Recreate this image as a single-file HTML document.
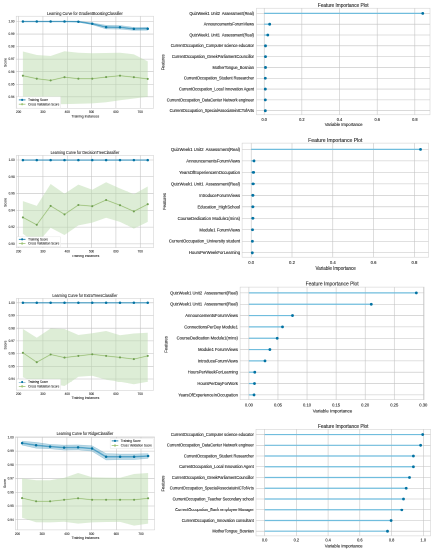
<!DOCTYPE html>
<html><head><meta charset="utf-8"><title>Model plots</title>
<style>html,body{margin:0;padding:0;background:#fff}</style>
</head><body>
<div style="position:relative;width:434px;height:550px;overflow:hidden"><div style="position:absolute;left:0;top:0;width:868px;height:1100px;transform-origin:0 0;transform:scale(0.5);will-change:transform"><svg width="868" height="1100" viewBox="0 0 434 550" font-family="'Liberation Sans', Arial, sans-serif" fill="#262626" style="display:block">
<style>text{white-space:pre}text.f{stroke:#262626;stroke-width:0.12px}text.l{stroke:#262626;stroke-width:0.08px}</style>
<rect x="0" y="0" width="434" height="550" fill="#ffffff"/>
<line x1="18.6" y1="16.2" x2="18.6" y2="108.3" stroke="#c2c2c2" stroke-width="0.55"/>
<line x1="42.93" y1="16.2" x2="42.93" y2="108.3" stroke="#c2c2c2" stroke-width="0.55"/>
<line x1="67.26" y1="16.2" x2="67.26" y2="108.3" stroke="#c2c2c2" stroke-width="0.55"/>
<line x1="91.59" y1="16.2" x2="91.59" y2="108.3" stroke="#c2c2c2" stroke-width="0.55"/>
<line x1="115.92" y1="16.2" x2="115.92" y2="108.3" stroke="#c2c2c2" stroke-width="0.55"/>
<line x1="140.25" y1="16.2" x2="140.25" y2="108.3" stroke="#c2c2c2" stroke-width="0.55"/>
<line x1="16.2" y1="21.5" x2="153.5" y2="21.5" stroke="#c2c2c2" stroke-width="0.55"/>
<line x1="16.2" y1="34.05" x2="153.5" y2="34.05" stroke="#c2c2c2" stroke-width="0.55"/>
<line x1="16.2" y1="46.6" x2="153.5" y2="46.6" stroke="#c2c2c2" stroke-width="0.55"/>
<line x1="16.2" y1="59.15" x2="153.5" y2="59.15" stroke="#c2c2c2" stroke-width="0.55"/>
<line x1="16.2" y1="71.7" x2="153.5" y2="71.7" stroke="#c2c2c2" stroke-width="0.55"/>
<line x1="16.2" y1="84.25" x2="153.5" y2="84.25" stroke="#c2c2c2" stroke-width="0.55"/>
<line x1="16.2" y1="96.8" x2="153.5" y2="96.8" stroke="#c2c2c2" stroke-width="0.55"/>
<polygon points="22.9,21.5 36.77,21.5 50.64,21.5 64.51,21.5 78.38,21.3 92.25,22.9 106.12,25.25 119.99,25.45 133.86,27.4 147.73,27.2 147.73,30.2 133.86,30.4 119.99,29.15 106.12,28.95 92.25,24.7 78.38,22.1 64.51,21.5 50.64,21.5 36.77,21.5 22.9,21.5" fill="#0272a2" fill-opacity="0.27" stroke="#0272a2" stroke-opacity="0.35" stroke-width="0.4" stroke-linejoin="round"/>
<polygon points="22.9,51.5 36.77,55 50.64,56 64.51,51.3 78.38,52.8 92.25,53.3 106.12,53 119.99,52.7 133.86,54.4 147.73,61.4 147.73,96.7 133.86,98.5 119.99,100.3 106.12,102.2 92.25,103.4 78.38,103.8 64.51,104.1 50.64,104.3 36.77,104.4 22.9,104.4" fill="#bbdbad" fill-opacity="0.5"/>
<polyline points="22.9,21.5 36.77,21.5 50.64,21.5 64.51,21.5 78.38,21.7 92.25,23.8 106.12,27.1 119.99,27.3 133.86,28.9 147.73,28.7" fill="none" stroke="#1e8fc4" stroke-width="1.6" stroke-opacity="0.45"/>
<polyline points="22.9,21.5 36.77,21.5 50.64,21.5 64.51,21.5 78.38,21.7 92.25,23.8 106.12,27.1 119.99,27.3 133.86,28.9 147.73,28.7" fill="none" stroke="#0272a2" stroke-width="0.4" stroke-opacity="0.7"/>
<circle cx="22.9" cy="21.5" r="1.25" fill="#0272a2"/>
<circle cx="36.77" cy="21.5" r="1.25" fill="#0272a2"/>
<circle cx="50.64" cy="21.5" r="1.25" fill="#0272a2"/>
<circle cx="64.51" cy="21.5" r="1.25" fill="#0272a2"/>
<circle cx="78.38" cy="21.7" r="1.25" fill="#0272a2"/>
<circle cx="92.25" cy="23.8" r="1.25" fill="#0272a2"/>
<circle cx="106.12" cy="27.1" r="1.25" fill="#0272a2"/>
<circle cx="119.99" cy="27.3" r="1.25" fill="#0272a2"/>
<circle cx="133.86" cy="28.9" r="1.25" fill="#0272a2"/>
<circle cx="147.73" cy="28.7" r="1.25" fill="#0272a2"/>
<polyline points="22.9,75.7 36.77,78.7 50.64,80.4 64.51,77.2 78.38,78.7 92.25,78.7 106.12,77.1 119.99,75.7 133.86,77.2 147.73,78.9" fill="none" stroke="#9fc377" stroke-width="1.1" stroke-opacity="0.45"/>
<polyline points="22.9,75.7 36.77,78.7 50.64,80.4 64.51,77.2 78.38,78.7 92.25,78.7 106.12,77.1 119.99,75.7 133.86,77.2 147.73,78.9" fill="none" stroke="#86b45f" stroke-width="0.4"/>
<circle cx="22.9" cy="75.7" r="1.05" fill="#6f9f50"/>
<circle cx="36.77" cy="78.7" r="1.05" fill="#6f9f50"/>
<circle cx="50.64" cy="80.4" r="1.05" fill="#6f9f50"/>
<circle cx="64.51" cy="77.2" r="1.05" fill="#6f9f50"/>
<circle cx="78.38" cy="78.7" r="1.05" fill="#6f9f50"/>
<circle cx="92.25" cy="78.7" r="1.05" fill="#6f9f50"/>
<circle cx="106.12" cy="77.1" r="1.05" fill="#6f9f50"/>
<circle cx="119.99" cy="75.7" r="1.05" fill="#6f9f50"/>
<circle cx="133.86" cy="77.2" r="1.05" fill="#6f9f50"/>
<circle cx="147.73" cy="78.9" r="1.05" fill="#6f9f50"/>
<rect x="16.2" y="16.2" width="137.3" height="92.1" fill="none" stroke="#cccccc" stroke-width="0.5" rx="0"/>
<text class="l" x="14.5" y="22.6" font-size="3.444" text-anchor="end" transform="matrix(0.9 0 0 1 1.45 0)">1.00</text>
<text class="l" x="14.5" y="35.15" font-size="3.444" text-anchor="end" transform="matrix(0.9 0 0 1 1.45 0)">0.99</text>
<text class="l" x="14.5" y="47.7" font-size="3.444" text-anchor="end" transform="matrix(0.9 0 0 1 1.45 0)">0.98</text>
<text class="l" x="14.5" y="60.25" font-size="3.444" text-anchor="end" transform="matrix(0.9 0 0 1 1.45 0)">0.97</text>
<text class="l" x="14.5" y="72.8" font-size="3.444" text-anchor="end" transform="matrix(0.9 0 0 1 1.45 0)">0.96</text>
<text class="l" x="14.5" y="85.35" font-size="3.444" text-anchor="end" transform="matrix(0.9 0 0 1 1.45 0)">0.95</text>
<text class="l" x="14.5" y="97.9" font-size="3.444" text-anchor="end" transform="matrix(0.9 0 0 1 1.45 0)">0.94</text>
<text class="l" x="18.6" y="112.8" font-size="3.444" text-anchor="middle" transform="matrix(0.9 0 0 1 1.86 0)">200</text>
<text class="l" x="42.93" y="112.8" font-size="3.444" text-anchor="middle" transform="matrix(0.9 0 0 1 4.29 0)">300</text>
<text class="l" x="67.26" y="112.8" font-size="3.444" text-anchor="middle" transform="matrix(0.9 0 0 1 6.73 0)">400</text>
<text class="l" x="91.59" y="112.8" font-size="3.444" text-anchor="middle" transform="matrix(0.9 0 0 1 9.16 0)">500</text>
<text class="l" x="115.92" y="112.8" font-size="3.444" text-anchor="middle" transform="matrix(0.9 0 0 1 11.59 0)">600</text>
<text class="l" x="140.25" y="112.8" font-size="3.444" text-anchor="middle" transform="matrix(0.9 0 0 1 14.02 0)">700</text>
<text class="l" x="84.85" y="14.92" font-size="4.133" text-anchor="middle" transform="matrix(0.9 0 0 1 8.48 0)">Learning Curve for GradientBoostingClassifier</text>
<text class="l" x="85.35" y="117.61" font-size="3.789" text-anchor="middle" transform="matrix(0.9 0 0 1 8.53 0)">Training Instances</text>
<text class="l" x="5.4" y="63.71" font-size="3.79" text-anchor="middle" transform="rotate(-90 5.4 62.5) matrix(0.9 0 0 1 0.54 0)">Score</text>
<rect x="16.8" y="96.8" width="43.9" height="11.4" fill="#ffffff" stroke="#dddddd" stroke-width="0.35" rx="0.6"/>
<line x1="18.8" y1="99.9" x2="25.5" y2="99.9" stroke="#0272a2" stroke-width="0.8"/>
<circle cx="22.15" cy="99.9" r="1.1" fill="#0272a2"/>
<text class="l" x="28.1" y="101" font-size="3.444" text-anchor="start" transform="matrix(0.9 0 0 1 2.81 0)">Training Score</text>
<line x1="18.8" y1="104.2" x2="25.5" y2="104.2" stroke="#9fc377" stroke-width="0.8"/>
<circle cx="22.15" cy="104.2" r="1.1" fill="#9fc377"/>
<text class="l" x="28.1" y="105.3" font-size="3.444" text-anchor="start" transform="matrix(0.9 0 0 1 2.81 0)">Cross Validation Score</text>
<line x1="18.6" y1="155.4" x2="18.6" y2="247.7" stroke="#c2c2c2" stroke-width="0.55"/>
<line x1="42.93" y1="155.4" x2="42.93" y2="247.7" stroke="#c2c2c2" stroke-width="0.55"/>
<line x1="67.26" y1="155.4" x2="67.26" y2="247.7" stroke="#c2c2c2" stroke-width="0.55"/>
<line x1="91.59" y1="155.4" x2="91.59" y2="247.7" stroke="#c2c2c2" stroke-width="0.55"/>
<line x1="115.92" y1="155.4" x2="115.92" y2="247.7" stroke="#c2c2c2" stroke-width="0.55"/>
<line x1="140.25" y1="155.4" x2="140.25" y2="247.7" stroke="#c2c2c2" stroke-width="0.55"/>
<line x1="16.4" y1="160" x2="153.5" y2="160" stroke="#c2c2c2" stroke-width="0.55"/>
<line x1="16.4" y1="176.78" x2="153.5" y2="176.78" stroke="#c2c2c2" stroke-width="0.55"/>
<line x1="16.4" y1="193.56" x2="153.5" y2="193.56" stroke="#c2c2c2" stroke-width="0.55"/>
<line x1="16.4" y1="210.34" x2="153.5" y2="210.34" stroke="#c2c2c2" stroke-width="0.55"/>
<line x1="16.4" y1="227.12" x2="153.5" y2="227.12" stroke="#c2c2c2" stroke-width="0.55"/>
<line x1="16.4" y1="243.9" x2="153.5" y2="243.9" stroke="#c2c2c2" stroke-width="0.55"/>
<polygon points="22.9,201.1 36.77,205.9 50.64,184 64.51,193.8 78.38,184.6 92.25,189.8 106.12,182.3 119.99,188.5 133.86,194.2 147.73,186.5 147.73,221.9 133.86,228.6 119.99,221.9 106.12,217.7 92.25,222.6 78.38,225.4 64.51,235 50.64,227.8 36.77,243.7 22.9,233.7" fill="#bbdbad" fill-opacity="0.5"/>
<polyline points="22.9,160.1 36.77,160.1 50.64,160.1 64.51,160.1 78.38,160.1 92.25,160.1 106.12,160.1 119.99,160.1 133.86,160.1 147.73,160.1" fill="none" stroke="#1e8fc4" stroke-width="1.6" stroke-opacity="0.45"/>
<polyline points="22.9,160.1 36.77,160.1 50.64,160.1 64.51,160.1 78.38,160.1 92.25,160.1 106.12,160.1 119.99,160.1 133.86,160.1 147.73,160.1" fill="none" stroke="#0272a2" stroke-width="0.4" stroke-opacity="0.7"/>
<circle cx="22.9" cy="160.1" r="1.25" fill="#0272a2"/>
<circle cx="36.77" cy="160.1" r="1.25" fill="#0272a2"/>
<circle cx="50.64" cy="160.1" r="1.25" fill="#0272a2"/>
<circle cx="64.51" cy="160.1" r="1.25" fill="#0272a2"/>
<circle cx="78.38" cy="160.1" r="1.25" fill="#0272a2"/>
<circle cx="92.25" cy="160.1" r="1.25" fill="#0272a2"/>
<circle cx="106.12" cy="160.1" r="1.25" fill="#0272a2"/>
<circle cx="119.99" cy="160.1" r="1.25" fill="#0272a2"/>
<circle cx="133.86" cy="160.1" r="1.25" fill="#0272a2"/>
<circle cx="147.73" cy="160.1" r="1.25" fill="#0272a2"/>
<polyline points="22.9,217.4 36.77,224.8 50.64,205.9 64.51,214.4 78.38,205 92.25,206.2 106.12,200 119.99,205.2 133.86,211.4 147.73,204.2" fill="none" stroke="#9fc377" stroke-width="1.1" stroke-opacity="0.45"/>
<polyline points="22.9,217.4 36.77,224.8 50.64,205.9 64.51,214.4 78.38,205 92.25,206.2 106.12,200 119.99,205.2 133.86,211.4 147.73,204.2" fill="none" stroke="#86b45f" stroke-width="0.4"/>
<circle cx="22.9" cy="217.4" r="1.05" fill="#6f9f50"/>
<circle cx="36.77" cy="224.8" r="1.05" fill="#6f9f50"/>
<circle cx="50.64" cy="205.9" r="1.05" fill="#6f9f50"/>
<circle cx="64.51" cy="214.4" r="1.05" fill="#6f9f50"/>
<circle cx="78.38" cy="205" r="1.05" fill="#6f9f50"/>
<circle cx="92.25" cy="206.2" r="1.05" fill="#6f9f50"/>
<circle cx="106.12" cy="200" r="1.05" fill="#6f9f50"/>
<circle cx="119.99" cy="205.2" r="1.05" fill="#6f9f50"/>
<circle cx="133.86" cy="211.4" r="1.05" fill="#6f9f50"/>
<circle cx="147.73" cy="204.2" r="1.05" fill="#6f9f50"/>
<rect x="16.4" y="155.4" width="137.1" height="92.3" fill="none" stroke="#cccccc" stroke-width="0.5" rx="0"/>
<text class="l" x="14.7" y="161.1" font-size="3.444" text-anchor="end" transform="matrix(0.9 0 0 1 1.47 0)">1.00</text>
<text class="l" x="14.7" y="177.88" font-size="3.444" text-anchor="end" transform="matrix(0.9 0 0 1 1.47 0)">0.98</text>
<text class="l" x="14.7" y="194.66" font-size="3.444" text-anchor="end" transform="matrix(0.9 0 0 1 1.47 0)">0.96</text>
<text class="l" x="14.7" y="211.44" font-size="3.444" text-anchor="end" transform="matrix(0.9 0 0 1 1.47 0)">0.94</text>
<text class="l" x="14.7" y="228.22" font-size="3.444" text-anchor="end" transform="matrix(0.9 0 0 1 1.47 0)">0.92</text>
<text class="l" x="14.7" y="245" font-size="3.444" text-anchor="end" transform="matrix(0.9 0 0 1 1.47 0)">0.90</text>
<text class="l" x="18.6" y="252.3" font-size="3.444" text-anchor="middle" transform="matrix(0.9 0 0 1 1.86 0)">200</text>
<text class="l" x="42.93" y="252.3" font-size="3.444" text-anchor="middle" transform="matrix(0.9 0 0 1 4.29 0)">300</text>
<text class="l" x="67.26" y="252.3" font-size="3.444" text-anchor="middle" transform="matrix(0.9 0 0 1 6.73 0)">400</text>
<text class="l" x="91.59" y="252.3" font-size="3.444" text-anchor="middle" transform="matrix(0.9 0 0 1 9.16 0)">500</text>
<text class="l" x="115.92" y="252.3" font-size="3.444" text-anchor="middle" transform="matrix(0.9 0 0 1 11.59 0)">600</text>
<text class="l" x="140.25" y="252.3" font-size="3.444" text-anchor="middle" transform="matrix(0.9 0 0 1 14.02 0)">700</text>
<text class="l" x="84.95" y="153.82" font-size="4.133" text-anchor="middle" transform="matrix(0.9 0 0 1 8.49 0)">Learning Curve for DecisionTreeClassifier</text>
<text class="l" x="85.45" y="256.91" font-size="3.789" text-anchor="middle" transform="matrix(0.9 0 0 1 8.54 0)">Training Instances</text>
<text class="l" x="5.5" y="203.61" font-size="3.79" text-anchor="middle" transform="rotate(-90 5.5 202.4) matrix(0.9 0 0 1 0.55 0)">Score</text>
<rect x="16.8" y="236.8" width="43.9" height="10" fill="#ffffff" stroke="#dddddd" stroke-width="0.35" rx="0.6"/>
<line x1="18.8" y1="239.3" x2="25.5" y2="239.3" stroke="#0272a2" stroke-width="0.8"/>
<circle cx="22.15" cy="239.3" r="1.1" fill="#0272a2"/>
<text class="l" x="28.1" y="240.4" font-size="3.444" text-anchor="start" transform="matrix(0.9 0 0 1 2.81 0)">Training Score</text>
<line x1="18.8" y1="243.5" x2="25.5" y2="243.5" stroke="#9fc377" stroke-width="0.8"/>
<circle cx="22.15" cy="243.5" r="1.1" fill="#9fc377"/>
<text class="l" x="28.1" y="244.6" font-size="3.444" text-anchor="start" transform="matrix(0.9 0 0 1 2.81 0)">Cross Validation Score</text>
<line x1="18.6" y1="298.4" x2="18.6" y2="390.3" stroke="#c2c2c2" stroke-width="0.55"/>
<line x1="42.93" y1="298.4" x2="42.93" y2="390.3" stroke="#c2c2c2" stroke-width="0.55"/>
<line x1="67.26" y1="298.4" x2="67.26" y2="390.3" stroke="#c2c2c2" stroke-width="0.55"/>
<line x1="91.59" y1="298.4" x2="91.59" y2="390.3" stroke="#c2c2c2" stroke-width="0.55"/>
<line x1="115.92" y1="298.4" x2="115.92" y2="390.3" stroke="#c2c2c2" stroke-width="0.55"/>
<line x1="140.25" y1="298.4" x2="140.25" y2="390.3" stroke="#c2c2c2" stroke-width="0.55"/>
<line x1="16.4" y1="302.8" x2="153.5" y2="302.8" stroke="#c2c2c2" stroke-width="0.55"/>
<line x1="16.4" y1="315.5" x2="153.5" y2="315.5" stroke="#c2c2c2" stroke-width="0.55"/>
<line x1="16.4" y1="328.2" x2="153.5" y2="328.2" stroke="#c2c2c2" stroke-width="0.55"/>
<line x1="16.4" y1="340.9" x2="153.5" y2="340.9" stroke="#c2c2c2" stroke-width="0.55"/>
<line x1="16.4" y1="353.6" x2="153.5" y2="353.6" stroke="#c2c2c2" stroke-width="0.55"/>
<line x1="16.4" y1="366.3" x2="153.5" y2="366.3" stroke="#c2c2c2" stroke-width="0.55"/>
<line x1="16.4" y1="379" x2="153.5" y2="379" stroke="#c2c2c2" stroke-width="0.55"/>
<polygon points="22.9,329 36.77,337.7 50.64,328.5 64.51,329 78.38,335 92.25,333.3 106.12,331 119.99,335.2 133.86,333.5 147.73,332.7 147.73,381.7 133.86,384.2 119.99,381.7 106.12,379.8 92.25,375.8 78.38,376.8 64.51,386 50.64,383.5 36.77,383 22.9,377.3" fill="#bbdbad" fill-opacity="0.5"/>
<polyline points="22.9,302.8 36.77,302.8 50.64,302.8 64.51,302.8 78.38,302.8 92.25,302.8 106.12,302.8 119.99,302.8 133.86,302.8 147.73,302.8" fill="none" stroke="#1e8fc4" stroke-width="1.6" stroke-opacity="0.45"/>
<polyline points="22.9,302.8 36.77,302.8 50.64,302.8 64.51,302.8 78.38,302.8 92.25,302.8 106.12,302.8 119.99,302.8 133.86,302.8 147.73,302.8" fill="none" stroke="#0272a2" stroke-width="0.4" stroke-opacity="0.7"/>
<circle cx="22.9" cy="302.8" r="1.25" fill="#0272a2"/>
<circle cx="36.77" cy="302.8" r="1.25" fill="#0272a2"/>
<circle cx="50.64" cy="302.8" r="1.25" fill="#0272a2"/>
<circle cx="64.51" cy="302.8" r="1.25" fill="#0272a2"/>
<circle cx="78.38" cy="302.8" r="1.25" fill="#0272a2"/>
<circle cx="92.25" cy="302.8" r="1.25" fill="#0272a2"/>
<circle cx="106.12" cy="302.8" r="1.25" fill="#0272a2"/>
<circle cx="119.99" cy="302.8" r="1.25" fill="#0272a2"/>
<circle cx="133.86" cy="302.8" r="1.25" fill="#0272a2"/>
<circle cx="147.73" cy="302.8" r="1.25" fill="#0272a2"/>
<polyline points="22.9,352.8 36.77,362.2 50.64,354.5 64.51,357.6 78.38,355.9 92.25,354.3 106.12,355.9 119.99,357.4 133.86,359.1 147.73,355.9" fill="none" stroke="#9fc377" stroke-width="1.1" stroke-opacity="0.45"/>
<polyline points="22.9,352.8 36.77,362.2 50.64,354.5 64.51,357.6 78.38,355.9 92.25,354.3 106.12,355.9 119.99,357.4 133.86,359.1 147.73,355.9" fill="none" stroke="#86b45f" stroke-width="0.4"/>
<circle cx="22.9" cy="352.8" r="1.05" fill="#6f9f50"/>
<circle cx="36.77" cy="362.2" r="1.05" fill="#6f9f50"/>
<circle cx="50.64" cy="354.5" r="1.05" fill="#6f9f50"/>
<circle cx="64.51" cy="357.6" r="1.05" fill="#6f9f50"/>
<circle cx="78.38" cy="355.9" r="1.05" fill="#6f9f50"/>
<circle cx="92.25" cy="354.3" r="1.05" fill="#6f9f50"/>
<circle cx="106.12" cy="355.9" r="1.05" fill="#6f9f50"/>
<circle cx="119.99" cy="357.4" r="1.05" fill="#6f9f50"/>
<circle cx="133.86" cy="359.1" r="1.05" fill="#6f9f50"/>
<circle cx="147.73" cy="355.9" r="1.05" fill="#6f9f50"/>
<rect x="16.4" y="298.4" width="137.1" height="91.9" fill="none" stroke="#cccccc" stroke-width="0.5" rx="0"/>
<text class="l" x="14.7" y="303.9" font-size="3.444" text-anchor="end" transform="matrix(0.9 0 0 1 1.47 0)">1.00</text>
<text class="l" x="14.7" y="316.6" font-size="3.444" text-anchor="end" transform="matrix(0.9 0 0 1 1.47 0)">0.99</text>
<text class="l" x="14.7" y="329.3" font-size="3.444" text-anchor="end" transform="matrix(0.9 0 0 1 1.47 0)">0.98</text>
<text class="l" x="14.7" y="342" font-size="3.444" text-anchor="end" transform="matrix(0.9 0 0 1 1.47 0)">0.97</text>
<text class="l" x="14.7" y="354.7" font-size="3.444" text-anchor="end" transform="matrix(0.9 0 0 1 1.47 0)">0.96</text>
<text class="l" x="14.7" y="367.4" font-size="3.444" text-anchor="end" transform="matrix(0.9 0 0 1 1.47 0)">0.95</text>
<text class="l" x="14.7" y="380.1" font-size="3.444" text-anchor="end" transform="matrix(0.9 0 0 1 1.47 0)">0.94</text>
<text class="l" x="18.6" y="394.8" font-size="3.444" text-anchor="middle" transform="matrix(0.9 0 0 1 1.86 0)">200</text>
<text class="l" x="42.93" y="394.8" font-size="3.444" text-anchor="middle" transform="matrix(0.9 0 0 1 4.29 0)">300</text>
<text class="l" x="67.26" y="394.8" font-size="3.444" text-anchor="middle" transform="matrix(0.9 0 0 1 6.73 0)">400</text>
<text class="l" x="91.59" y="394.8" font-size="3.444" text-anchor="middle" transform="matrix(0.9 0 0 1 9.16 0)">500</text>
<text class="l" x="115.92" y="394.8" font-size="3.444" text-anchor="middle" transform="matrix(0.9 0 0 1 11.59 0)">600</text>
<text class="l" x="140.25" y="394.8" font-size="3.444" text-anchor="middle" transform="matrix(0.9 0 0 1 14.02 0)">700</text>
<text class="l" x="84.95" y="297.12" font-size="4.133" text-anchor="middle" transform="matrix(0.9 0 0 1 8.49 0)">Learning Curve for ExtraTreesClassifier</text>
<text class="l" x="85.45" y="399.21" font-size="3.789" text-anchor="middle" transform="matrix(0.9 0 0 1 8.54 0)">Training Instances</text>
<text class="l" x="5.5" y="346.21" font-size="3.79" text-anchor="middle" transform="rotate(-90 5.5 345) matrix(0.9 0 0 1 0.55 0)">Score</text>
<rect x="16.8" y="379.2" width="43.9" height="10.7" fill="#ffffff" stroke="#dddddd" stroke-width="0.35" rx="0.6"/>
<line x1="18.8" y1="382" x2="25.5" y2="382" stroke="#0272a2" stroke-width="0.8"/>
<circle cx="22.15" cy="382" r="1.1" fill="#0272a2"/>
<text class="l" x="28.1" y="383.1" font-size="3.444" text-anchor="start" transform="matrix(0.9 0 0 1 2.81 0)">Training Score</text>
<line x1="18.8" y1="386.4" x2="25.5" y2="386.4" stroke="#9fc377" stroke-width="0.8"/>
<circle cx="22.15" cy="386.4" r="1.1" fill="#9fc377"/>
<text class="l" x="28.1" y="387.5" font-size="3.444" text-anchor="start" transform="matrix(0.9 0 0 1 2.81 0)">Cross Validation Score</text>
<line x1="17.5" y1="436.9" x2="17.5" y2="529.9" stroke="#c2c2c2" stroke-width="0.55"/>
<line x1="42.2" y1="436.9" x2="42.2" y2="529.9" stroke="#c2c2c2" stroke-width="0.55"/>
<line x1="66.9" y1="436.9" x2="66.9" y2="529.9" stroke="#c2c2c2" stroke-width="0.55"/>
<line x1="91.6" y1="436.9" x2="91.6" y2="529.9" stroke="#c2c2c2" stroke-width="0.55"/>
<line x1="116.3" y1="436.9" x2="116.3" y2="529.9" stroke="#c2c2c2" stroke-width="0.55"/>
<line x1="141" y1="436.9" x2="141" y2="529.9" stroke="#c2c2c2" stroke-width="0.55"/>
<line x1="15.4" y1="437.4" x2="154.5" y2="437.4" stroke="#c2c2c2" stroke-width="0.55"/>
<line x1="15.4" y1="451.12" x2="154.5" y2="451.12" stroke="#c2c2c2" stroke-width="0.55"/>
<line x1="15.4" y1="464.84" x2="154.5" y2="464.84" stroke="#c2c2c2" stroke-width="0.55"/>
<line x1="15.4" y1="478.56" x2="154.5" y2="478.56" stroke="#c2c2c2" stroke-width="0.55"/>
<line x1="15.4" y1="492.28" x2="154.5" y2="492.28" stroke="#c2c2c2" stroke-width="0.55"/>
<line x1="15.4" y1="506" x2="154.5" y2="506" stroke="#c2c2c2" stroke-width="0.55"/>
<line x1="15.4" y1="519.72" x2="154.5" y2="519.72" stroke="#c2c2c2" stroke-width="0.55"/>
<polygon points="22.1,441.1 36.1,442.4 50.1,444.4 64.1,445.1 78.1,444.9 92.1,445.8 106.1,453.6 120.1,454 134.1,454 148.1,453.6 148.1,458.4 134.1,459.6 120.1,459.6 106.1,460 92.1,451.2 78.1,449.9 64.1,450.1 50.1,448.8 36.1,448.2 22.1,445.1" fill="#0272a2" fill-opacity="0.27" stroke="#0272a2" stroke-opacity="0.35" stroke-width="0.4" stroke-linejoin="round"/>
<polygon points="22.1,478.4 36.1,480.3 50.1,480.2 64.1,477.9 78.1,473 92.1,477.2 106.1,477.6 120.1,477.7 134.1,474 148.1,473 148.1,523.6 134.1,525.6 120.1,521.9 106.1,522 92.1,522.4 78.1,523.6 64.1,521.7 50.1,522.4 36.1,522.3 22.1,517.8" fill="#bbdbad" fill-opacity="0.5"/>
<polyline points="22.1,443.1 36.1,445.3 50.1,446.6 64.1,447.6 78.1,447.4 92.1,448.5 106.1,456.8 120.1,456.8 134.1,456.8 148.1,456" fill="none" stroke="#1e8fc4" stroke-width="1.6" stroke-opacity="0.45"/>
<polyline points="22.1,443.1 36.1,445.3 50.1,446.6 64.1,447.6 78.1,447.4 92.1,448.5 106.1,456.8 120.1,456.8 134.1,456.8 148.1,456" fill="none" stroke="#0272a2" stroke-width="0.4" stroke-opacity="0.7"/>
<circle cx="22.1" cy="443.1" r="1.25" fill="#0272a2"/>
<circle cx="36.1" cy="445.3" r="1.25" fill="#0272a2"/>
<circle cx="50.1" cy="446.6" r="1.25" fill="#0272a2"/>
<circle cx="64.1" cy="447.6" r="1.25" fill="#0272a2"/>
<circle cx="78.1" cy="447.4" r="1.25" fill="#0272a2"/>
<circle cx="92.1" cy="448.5" r="1.25" fill="#0272a2"/>
<circle cx="106.1" cy="456.8" r="1.25" fill="#0272a2"/>
<circle cx="120.1" cy="456.8" r="1.25" fill="#0272a2"/>
<circle cx="134.1" cy="456.8" r="1.25" fill="#0272a2"/>
<circle cx="148.1" cy="456" r="1.25" fill="#0272a2"/>
<polyline points="22.1,498.1 36.1,501.3 50.1,501.3 64.1,499.8 78.1,498.3 92.1,499.8 106.1,499.8 120.1,499.8 134.1,499.8 148.1,498.3" fill="none" stroke="#9fc377" stroke-width="1.1" stroke-opacity="0.45"/>
<polyline points="22.1,498.1 36.1,501.3 50.1,501.3 64.1,499.8 78.1,498.3 92.1,499.8 106.1,499.8 120.1,499.8 134.1,499.8 148.1,498.3" fill="none" stroke="#86b45f" stroke-width="0.4"/>
<circle cx="22.1" cy="498.1" r="1.05" fill="#6f9f50"/>
<circle cx="36.1" cy="501.3" r="1.05" fill="#6f9f50"/>
<circle cx="50.1" cy="501.3" r="1.05" fill="#6f9f50"/>
<circle cx="64.1" cy="499.8" r="1.05" fill="#6f9f50"/>
<circle cx="78.1" cy="498.3" r="1.05" fill="#6f9f50"/>
<circle cx="92.1" cy="499.8" r="1.05" fill="#6f9f50"/>
<circle cx="106.1" cy="499.8" r="1.05" fill="#6f9f50"/>
<circle cx="120.1" cy="499.8" r="1.05" fill="#6f9f50"/>
<circle cx="134.1" cy="499.8" r="1.05" fill="#6f9f50"/>
<circle cx="148.1" cy="498.3" r="1.05" fill="#6f9f50"/>
<rect x="15.4" y="436.9" width="139.1" height="93" fill="none" stroke="#cccccc" stroke-width="0.5" rx="0"/>
<text class="l" x="13.7" y="438.5" font-size="3.444" text-anchor="end" transform="matrix(0.9 0 0 1 1.37 0)">1.00</text>
<text class="l" x="13.7" y="452.22" font-size="3.444" text-anchor="end" transform="matrix(0.9 0 0 1 1.37 0)">0.99</text>
<text class="l" x="13.7" y="465.94" font-size="3.444" text-anchor="end" transform="matrix(0.9 0 0 1 1.37 0)">0.98</text>
<text class="l" x="13.7" y="479.66" font-size="3.444" text-anchor="end" transform="matrix(0.9 0 0 1 1.37 0)">0.97</text>
<text class="l" x="13.7" y="493.38" font-size="3.444" text-anchor="end" transform="matrix(0.9 0 0 1 1.37 0)">0.96</text>
<text class="l" x="13.7" y="507.1" font-size="3.444" text-anchor="end" transform="matrix(0.9 0 0 1 1.37 0)">0.95</text>
<text class="l" x="13.7" y="520.82" font-size="3.444" text-anchor="end" transform="matrix(0.9 0 0 1 1.37 0)">0.94</text>
<text class="l" x="17.5" y="535" font-size="3.444" text-anchor="middle" transform="matrix(0.9 0 0 1 1.75 0)">200</text>
<text class="l" x="42.2" y="535" font-size="3.444" text-anchor="middle" transform="matrix(0.9 0 0 1 4.22 0)">300</text>
<text class="l" x="66.9" y="535" font-size="3.444" text-anchor="middle" transform="matrix(0.9 0 0 1 6.69 0)">400</text>
<text class="l" x="91.6" y="535" font-size="3.444" text-anchor="middle" transform="matrix(0.9 0 0 1 9.16 0)">500</text>
<text class="l" x="116.3" y="535" font-size="3.444" text-anchor="middle" transform="matrix(0.9 0 0 1 11.63 0)">600</text>
<text class="l" x="141" y="535" font-size="3.444" text-anchor="middle" transform="matrix(0.9 0 0 1 14.1 0)">700</text>
<text class="l" x="84.95" y="435.12" font-size="4.133" text-anchor="middle" transform="matrix(0.9 0 0 1 8.49 0)">Learning Curve for RidgeClassifier</text>
<text class="l" x="85.45" y="539.11" font-size="3.789" text-anchor="middle" transform="matrix(0.9 0 0 1 8.54 0)">Training Instances</text>
<text class="l" x="4.7" y="484.81" font-size="3.79" text-anchor="middle" transform="rotate(-90 4.7 483.6) matrix(0.9 0 0 1 0.47 0)">Score</text>
<rect x="110.2" y="438.4" width="43.3" height="10.2" fill="#ffffff" stroke="#dddddd" stroke-width="0.35" rx="0.6"/>
<line x1="111.7" y1="440.9" x2="118.3" y2="440.9" stroke="#0272a2" stroke-width="0.8"/>
<circle cx="115" cy="440.9" r="1.1" fill="#0272a2"/>
<text class="l" x="120.8" y="442" font-size="3.444" text-anchor="start" transform="matrix(0.9 0 0 1 12.08 0)">Training Score</text>
<line x1="111.7" y1="445.5" x2="118.3" y2="445.5" stroke="#9fc377" stroke-width="0.8"/>
<circle cx="115" cy="445.5" r="1.1" fill="#9fc377"/>
<text class="l" x="120.8" y="446.6" font-size="3.444" text-anchor="start" transform="matrix(0.9 0 0 1 12.08 0)">Cross Validation Score</text>
<line x1="264.2" y1="8.2" x2="264.2" y2="114.8" stroke="#c2c2c2" stroke-width="0.55"/>
<line x1="301.86" y1="8.2" x2="301.86" y2="114.8" stroke="#c2c2c2" stroke-width="0.55"/>
<line x1="339.52" y1="8.2" x2="339.52" y2="114.8" stroke="#c2c2c2" stroke-width="0.55"/>
<line x1="377.18" y1="8.2" x2="377.18" y2="114.8" stroke="#c2c2c2" stroke-width="0.55"/>
<line x1="414.84" y1="8.2" x2="414.84" y2="114.8" stroke="#c2c2c2" stroke-width="0.55"/>
<line x1="256.5" y1="13.4" x2="430" y2="13.4" stroke="#c2c2c2" stroke-width="0.55"/>
<line x1="256.5" y1="24.21" x2="430" y2="24.21" stroke="#c2c2c2" stroke-width="0.55"/>
<line x1="256.5" y1="35.02" x2="430" y2="35.02" stroke="#c2c2c2" stroke-width="0.55"/>
<line x1="256.5" y1="45.83" x2="430" y2="45.83" stroke="#c2c2c2" stroke-width="0.55"/>
<line x1="256.5" y1="56.64" x2="430" y2="56.64" stroke="#c2c2c2" stroke-width="0.55"/>
<line x1="256.5" y1="67.45" x2="430" y2="67.45" stroke="#c2c2c2" stroke-width="0.55"/>
<line x1="256.5" y1="78.26" x2="430" y2="78.26" stroke="#c2c2c2" stroke-width="0.55"/>
<line x1="256.5" y1="89.07" x2="430" y2="89.07" stroke="#c2c2c2" stroke-width="0.55"/>
<line x1="256.5" y1="99.88" x2="430" y2="99.88" stroke="#c2c2c2" stroke-width="0.55"/>
<line x1="256.5" y1="110.69" x2="430" y2="110.69" stroke="#c2c2c2" stroke-width="0.55"/>
<line x1="264.2" y1="13.4" x2="422.75" y2="13.4" stroke="#70bddd" stroke-width="1.2"/>
<line x1="264.2" y1="24.21" x2="269.66" y2="24.21" stroke="#70bddd" stroke-width="1.2"/>
<line x1="264.2" y1="35.02" x2="267.78" y2="35.02" stroke="#70bddd" stroke-width="1.2"/>
<line x1="264.2" y1="45.83" x2="265.52" y2="45.83" stroke="#70bddd" stroke-width="1.2"/>
<line x1="264.2" y1="56.64" x2="265.52" y2="56.64" stroke="#70bddd" stroke-width="1.2"/>
<line x1="264.2" y1="67.45" x2="265.52" y2="67.45" stroke="#70bddd" stroke-width="1.2"/>
<line x1="264.2" y1="78.26" x2="265.33" y2="78.26" stroke="#70bddd" stroke-width="1.2"/>
<line x1="264.2" y1="89.07" x2="265.33" y2="89.07" stroke="#70bddd" stroke-width="1.2"/>
<line x1="264.2" y1="99.88" x2="265.33" y2="99.88" stroke="#70bddd" stroke-width="1.2"/>
<line x1="264.2" y1="110.69" x2="265.33" y2="110.69" stroke="#70bddd" stroke-width="1.2"/>
<circle cx="422.75" cy="13.4" r="1.4" fill="#0272a2"/>
<circle cx="269.66" cy="24.21" r="1.4" fill="#0272a2"/>
<circle cx="267.78" cy="35.02" r="1.4" fill="#0272a2"/>
<circle cx="265.52" cy="45.83" r="1.4" fill="#0272a2"/>
<circle cx="265.52" cy="56.64" r="1.4" fill="#0272a2"/>
<circle cx="265.52" cy="67.45" r="1.4" fill="#0272a2"/>
<circle cx="265.33" cy="78.26" r="1.4" fill="#0272a2"/>
<circle cx="265.33" cy="89.07" r="1.4" fill="#0272a2"/>
<circle cx="265.33" cy="99.88" r="1.4" fill="#0272a2"/>
<circle cx="265.33" cy="110.69" r="1.4" fill="#0272a2"/>
<rect x="256.5" y="8.2" width="173.5" height="106.6" fill="none" stroke="#cccccc" stroke-width="0.5" rx="0"/>
<text class="f" x="254" y="14.8" font-size="4.389" text-anchor="end" transform="matrix(0.9 0 0 1 25.4 0)">QuizWeek1 Unit2  Assessment(Real)</text>
<text class="f" x="254" y="25.61" font-size="4.389" text-anchor="end" transform="matrix(0.9 0 0 1 25.4 0)">AnnouncementsForumViews</text>
<text class="f" x="254" y="36.42" font-size="4.389" text-anchor="end" transform="matrix(0.9 0 0 1 25.4 0)">QuizWeek1 Unit1  Assessment(Real)</text>
<text class="f" x="254" y="47.23" font-size="4.389" text-anchor="end" transform="matrix(0.9 0 0 1 25.4 0)">CurrentOccupation_Computer science educator</text>
<text class="f" x="254" y="58.04" font-size="4.389" text-anchor="end" transform="matrix(0.9 0 0 1 25.4 0)">CurrentOccupation_GreekParliamentCouncillor</text>
<text class="f" x="254" y="68.85" font-size="4.389" text-anchor="end" transform="matrix(0.9 0 0 1 25.4 0)">MotherTongue_Bosnian</text>
<text class="f" x="254" y="79.66" font-size="4.389" text-anchor="end" transform="matrix(0.9 0 0 1 25.4 0)">CurrentOccupation_Student Researcher</text>
<text class="f" x="254" y="90.47" font-size="4.389" text-anchor="end" transform="matrix(0.9 0 0 1 25.4 0)">CurrentOccupation_Local Innovation Agent</text>
<text class="f" x="254" y="101.28" font-size="4.389" text-anchor="end" transform="matrix(0.9 0 0 1 25.4 0)">CurrentOccupation_DataCenter Network engineer</text>
<text class="f" x="254" y="112.09" font-size="4.389" text-anchor="end" transform="matrix(0.9 0 0 1 25.4 0)">CurrentOccupation_SpecialAssociateinICTofArts</text>
<text class="f" x="264.2" y="121.2" font-size="4.389" text-anchor="middle" transform="matrix(0.9 0 0 1 26.42 0)">0.0</text>
<text class="f" x="301.86" y="121.2" font-size="4.389" text-anchor="middle" transform="matrix(0.9 0 0 1 30.19 0)">0.2</text>
<text class="f" x="339.52" y="121.2" font-size="4.389" text-anchor="middle" transform="matrix(0.9 0 0 1 33.95 0)">0.4</text>
<text class="f" x="377.18" y="121.2" font-size="4.389" text-anchor="middle" transform="matrix(0.9 0 0 1 37.72 0)">0.6</text>
<text class="f" x="414.84" y="121.2" font-size="4.389" text-anchor="middle" transform="matrix(0.9 0 0 1 41.48 0)">0.8</text>
<text class="f" x="343.25" y="6.78" font-size="5.267" text-anchor="middle" transform="matrix(0.9 0 0 1 34.32 0)">Feature Importance Plot</text>
<text class="f" x="343.65" y="126.11" font-size="4.74" text-anchor="middle" transform="matrix(0.9 0 0 1 34.36 0)">Variable Importance</text>
<text class="l" x="163.2" y="63.74" font-size="4.52" text-anchor="middle" transform="rotate(-90 163.2 62.3) matrix(0.9 0 0 1 16.32 0)">Features</text>
<line x1="251.2" y1="143.1" x2="251.2" y2="257.2" stroke="#c2c2c2" stroke-width="0.55"/>
<line x1="292" y1="143.1" x2="292" y2="257.2" stroke="#c2c2c2" stroke-width="0.55"/>
<line x1="332.8" y1="143.1" x2="332.8" y2="257.2" stroke="#c2c2c2" stroke-width="0.55"/>
<line x1="373.6" y1="143.1" x2="373.6" y2="257.2" stroke="#c2c2c2" stroke-width="0.55"/>
<line x1="414.4" y1="143.1" x2="414.4" y2="257.2" stroke="#c2c2c2" stroke-width="0.55"/>
<line x1="242.1" y1="149.4" x2="428.5" y2="149.4" stroke="#c2c2c2" stroke-width="0.55"/>
<line x1="242.1" y1="160.88" x2="428.5" y2="160.88" stroke="#c2c2c2" stroke-width="0.55"/>
<line x1="242.1" y1="172.36" x2="428.5" y2="172.36" stroke="#c2c2c2" stroke-width="0.55"/>
<line x1="242.1" y1="183.84" x2="428.5" y2="183.84" stroke="#c2c2c2" stroke-width="0.55"/>
<line x1="242.1" y1="195.32" x2="428.5" y2="195.32" stroke="#c2c2c2" stroke-width="0.55"/>
<line x1="242.1" y1="206.8" x2="428.5" y2="206.8" stroke="#c2c2c2" stroke-width="0.55"/>
<line x1="242.1" y1="218.28" x2="428.5" y2="218.28" stroke="#c2c2c2" stroke-width="0.55"/>
<line x1="242.1" y1="229.76" x2="428.5" y2="229.76" stroke="#c2c2c2" stroke-width="0.55"/>
<line x1="242.1" y1="241.24" x2="428.5" y2="241.24" stroke="#c2c2c2" stroke-width="0.55"/>
<line x1="242.1" y1="252.72" x2="428.5" y2="252.72" stroke="#c2c2c2" stroke-width="0.55"/>
<line x1="251.2" y1="149.4" x2="420.52" y2="149.4" stroke="#70bddd" stroke-width="1.2"/>
<line x1="251.2" y1="160.88" x2="253.99" y2="160.88" stroke="#70bddd" stroke-width="1.2"/>
<line x1="251.2" y1="172.36" x2="253.3" y2="172.36" stroke="#70bddd" stroke-width="1.2"/>
<line x1="251.2" y1="183.84" x2="253.04" y2="183.84" stroke="#70bddd" stroke-width="1.2"/>
<line x1="251.2" y1="195.32" x2="252.83" y2="195.32" stroke="#70bddd" stroke-width="1.2"/>
<line x1="251.2" y1="206.8" x2="252.83" y2="206.8" stroke="#70bddd" stroke-width="1.2"/>
<line x1="251.2" y1="218.28" x2="252.83" y2="218.28" stroke="#70bddd" stroke-width="1.2"/>
<line x1="251.2" y1="229.76" x2="252.53" y2="229.76" stroke="#70bddd" stroke-width="1.2"/>
<line x1="251.2" y1="241.24" x2="252.42" y2="241.24" stroke="#70bddd" stroke-width="1.2"/>
<line x1="251.2" y1="252.72" x2="252.32" y2="252.72" stroke="#70bddd" stroke-width="1.2"/>
<circle cx="420.52" cy="149.4" r="1.4" fill="#0272a2"/>
<circle cx="253.99" cy="160.88" r="1.4" fill="#0272a2"/>
<circle cx="253.3" cy="172.36" r="1.4" fill="#0272a2"/>
<circle cx="253.04" cy="183.84" r="1.4" fill="#0272a2"/>
<circle cx="252.83" cy="195.32" r="1.4" fill="#0272a2"/>
<circle cx="252.83" cy="206.8" r="1.4" fill="#0272a2"/>
<circle cx="252.83" cy="218.28" r="1.4" fill="#0272a2"/>
<circle cx="252.53" cy="229.76" r="1.4" fill="#0272a2"/>
<circle cx="252.42" cy="241.24" r="1.4" fill="#0272a2"/>
<circle cx="252.32" cy="252.72" r="1.4" fill="#0272a2"/>
<rect x="242.1" y="143.1" width="186.4" height="114.1" fill="none" stroke="#cccccc" stroke-width="0.5" rx="0"/>
<text class="f" x="240.1" y="150.9" font-size="4.689" text-anchor="end" transform="matrix(0.9 0 0 1 24.01 0)">QuizWeek1 Unit2  Assessment(Real)</text>
<text class="f" x="240.1" y="162.38" font-size="4.689" text-anchor="end" transform="matrix(0.9 0 0 1 24.01 0)">AnnouncementsForumViews</text>
<text class="f" x="240.1" y="173.86" font-size="4.689" text-anchor="end" transform="matrix(0.9 0 0 1 24.01 0)">YearsOfExperienceInOccupation</text>
<text class="f" x="240.1" y="185.34" font-size="4.689" text-anchor="end" transform="matrix(0.9 0 0 1 24.01 0)">QuizWeek1 Unit1  Assessment(Real)</text>
<text class="f" x="240.1" y="196.82" font-size="4.689" text-anchor="end" transform="matrix(0.9 0 0 1 24.01 0)">IntroduceForumViews</text>
<text class="f" x="240.1" y="208.3" font-size="4.689" text-anchor="end" transform="matrix(0.9 0 0 1 24.01 0)">Education_HighSchool</text>
<text class="f" x="240.1" y="219.78" font-size="4.689" text-anchor="end" transform="matrix(0.9 0 0 1 24.01 0)">CourseDedication Module1(mins)</text>
<text class="f" x="240.1" y="231.26" font-size="4.689" text-anchor="end" transform="matrix(0.9 0 0 1 24.01 0)">Module1 ForumViews</text>
<text class="f" x="240.1" y="242.74" font-size="4.689" text-anchor="end" transform="matrix(0.9 0 0 1 24.01 0)">CurrentOccupation_University student</text>
<text class="f" x="240.1" y="254.22" font-size="4.689" text-anchor="end" transform="matrix(0.9 0 0 1 24.01 0)">HoursPerWeekForLearning</text>
<text class="f" x="251.2" y="264.1" font-size="4.689" text-anchor="middle" transform="matrix(0.9 0 0 1 25.12 0)">0.0</text>
<text class="f" x="292" y="264.1" font-size="4.689" text-anchor="middle" transform="matrix(0.9 0 0 1 29.2 0)">0.2</text>
<text class="f" x="332.8" y="264.1" font-size="4.689" text-anchor="middle" transform="matrix(0.9 0 0 1 33.28 0)">0.4</text>
<text class="f" x="373.6" y="264.1" font-size="4.689" text-anchor="middle" transform="matrix(0.9 0 0 1 37.36 0)">0.6</text>
<text class="f" x="414.4" y="264.1" font-size="4.689" text-anchor="middle" transform="matrix(0.9 0 0 1 41.44 0)">0.8</text>
<text class="f" x="335.3" y="141.8" font-size="5.627" text-anchor="middle" transform="matrix(0.9 0 0 1 33.53 0)">Feature Importance Plot</text>
<text class="f" x="335.7" y="270.12" font-size="5.064" text-anchor="middle" transform="matrix(0.9 0 0 1 33.57 0)">Variable Importance</text>
<text class="l" x="164.7" y="203.04" font-size="4.83" text-anchor="middle" transform="rotate(-90 164.7 201.5) matrix(0.9 0 0 1 16.47 0)">Features</text>
<line x1="248.9" y1="287.1" x2="248.9" y2="399.7" stroke="#c2c2c2" stroke-width="0.55"/>
<line x1="277.97" y1="287.1" x2="277.97" y2="399.7" stroke="#c2c2c2" stroke-width="0.55"/>
<line x1="307.04" y1="287.1" x2="307.04" y2="399.7" stroke="#c2c2c2" stroke-width="0.55"/>
<line x1="336.11" y1="287.1" x2="336.11" y2="399.7" stroke="#c2c2c2" stroke-width="0.55"/>
<line x1="365.18" y1="287.1" x2="365.18" y2="399.7" stroke="#c2c2c2" stroke-width="0.55"/>
<line x1="394.25" y1="287.1" x2="394.25" y2="399.7" stroke="#c2c2c2" stroke-width="0.55"/>
<line x1="423.32" y1="287.1" x2="423.32" y2="399.7" stroke="#c2c2c2" stroke-width="0.55"/>
<line x1="240.1" y1="292.9" x2="424.1" y2="292.9" stroke="#c2c2c2" stroke-width="0.55"/>
<line x1="240.1" y1="304.23" x2="424.1" y2="304.23" stroke="#c2c2c2" stroke-width="0.55"/>
<line x1="240.1" y1="315.56" x2="424.1" y2="315.56" stroke="#c2c2c2" stroke-width="0.55"/>
<line x1="240.1" y1="326.89" x2="424.1" y2="326.89" stroke="#c2c2c2" stroke-width="0.55"/>
<line x1="240.1" y1="338.22" x2="424.1" y2="338.22" stroke="#c2c2c2" stroke-width="0.55"/>
<line x1="240.1" y1="349.55" x2="424.1" y2="349.55" stroke="#c2c2c2" stroke-width="0.55"/>
<line x1="240.1" y1="360.88" x2="424.1" y2="360.88" stroke="#c2c2c2" stroke-width="0.55"/>
<line x1="240.1" y1="372.21" x2="424.1" y2="372.21" stroke="#c2c2c2" stroke-width="0.55"/>
<line x1="240.1" y1="383.54" x2="424.1" y2="383.54" stroke="#c2c2c2" stroke-width="0.55"/>
<line x1="240.1" y1="394.87" x2="424.1" y2="394.87" stroke="#c2c2c2" stroke-width="0.55"/>
<line x1="248.9" y1="292.9" x2="416.34" y2="292.9" stroke="#70bddd" stroke-width="1.2"/>
<line x1="248.9" y1="304.23" x2="371.28" y2="304.23" stroke="#70bddd" stroke-width="1.2"/>
<line x1="248.9" y1="315.56" x2="292.5" y2="315.56" stroke="#70bddd" stroke-width="1.2"/>
<line x1="248.9" y1="326.89" x2="282.5" y2="326.89" stroke="#70bddd" stroke-width="1.2"/>
<line x1="248.9" y1="338.22" x2="277.21" y2="338.22" stroke="#70bddd" stroke-width="1.2"/>
<line x1="248.9" y1="349.55" x2="269.89" y2="349.55" stroke="#70bddd" stroke-width="1.2"/>
<line x1="248.9" y1="360.88" x2="265" y2="360.88" stroke="#70bddd" stroke-width="1.2"/>
<line x1="248.9" y1="372.21" x2="254.77" y2="372.21" stroke="#70bddd" stroke-width="1.2"/>
<line x1="248.9" y1="383.54" x2="254.48" y2="383.54" stroke="#70bddd" stroke-width="1.2"/>
<line x1="248.9" y1="394.87" x2="254.02" y2="394.87" stroke="#70bddd" stroke-width="1.2"/>
<circle cx="416.34" cy="292.9" r="1.4" fill="#0272a2"/>
<circle cx="371.28" cy="304.23" r="1.4" fill="#0272a2"/>
<circle cx="292.5" cy="315.56" r="1.4" fill="#0272a2"/>
<circle cx="282.5" cy="326.89" r="1.4" fill="#0272a2"/>
<circle cx="277.21" cy="338.22" r="1.4" fill="#0272a2"/>
<circle cx="269.89" cy="349.55" r="1.4" fill="#0272a2"/>
<circle cx="265" cy="360.88" r="1.4" fill="#0272a2"/>
<circle cx="254.77" cy="372.21" r="1.4" fill="#0272a2"/>
<circle cx="254.48" cy="383.54" r="1.4" fill="#0272a2"/>
<circle cx="254.02" cy="394.87" r="1.4" fill="#0272a2"/>
<rect x="240.1" y="287.1" width="184" height="112.6" fill="none" stroke="#cccccc" stroke-width="0.5" rx="0"/>
<text class="f" x="237.9" y="294.37" font-size="4.589" text-anchor="end" transform="matrix(0.9 0 0 1 23.79 0)">QuizWeek1 Unit2  Assessment(Real)</text>
<text class="f" x="237.9" y="305.7" font-size="4.589" text-anchor="end" transform="matrix(0.9 0 0 1 23.79 0)">QuizWeek1 Unit1  Assessment(Real)</text>
<text class="f" x="237.9" y="317.03" font-size="4.589" text-anchor="end" transform="matrix(0.9 0 0 1 23.79 0)">AnnouncementsForumViews</text>
<text class="f" x="237.9" y="328.36" font-size="4.589" text-anchor="end" transform="matrix(0.9 0 0 1 23.79 0)">ConnectionsPerDay Module1</text>
<text class="f" x="237.9" y="339.69" font-size="4.589" text-anchor="end" transform="matrix(0.9 0 0 1 23.79 0)">CourseDedication Module1(mins)</text>
<text class="f" x="237.9" y="351.02" font-size="4.589" text-anchor="end" transform="matrix(0.9 0 0 1 23.79 0)">Module1 ForumViews</text>
<text class="f" x="237.9" y="362.35" font-size="4.589" text-anchor="end" transform="matrix(0.9 0 0 1 23.79 0)">IntroduceForumViews</text>
<text class="f" x="237.9" y="373.68" font-size="4.589" text-anchor="end" transform="matrix(0.9 0 0 1 23.79 0)">HoursPerWeekForLearning</text>
<text class="f" x="237.9" y="385.01" font-size="4.589" text-anchor="end" transform="matrix(0.9 0 0 1 23.79 0)">HoursPerDayForWork</text>
<text class="f" x="237.9" y="396.34" font-size="4.589" text-anchor="end" transform="matrix(0.9 0 0 1 23.79 0)">YearsOfExperienceInOccupation</text>
<text class="f" x="248.9" y="406.47" font-size="4.589" text-anchor="middle" transform="matrix(0.9 0 0 1 24.89 0)">0.00</text>
<text class="f" x="277.97" y="406.47" font-size="4.589" text-anchor="middle" transform="matrix(0.9 0 0 1 27.8 0)">0.05</text>
<text class="f" x="307.04" y="406.47" font-size="4.589" text-anchor="middle" transform="matrix(0.9 0 0 1 30.7 0)">0.10</text>
<text class="f" x="336.11" y="406.47" font-size="4.589" text-anchor="middle" transform="matrix(0.9 0 0 1 33.61 0)">0.15</text>
<text class="f" x="365.18" y="406.47" font-size="4.589" text-anchor="middle" transform="matrix(0.9 0 0 1 36.52 0)">0.20</text>
<text class="f" x="394.25" y="406.47" font-size="4.589" text-anchor="middle" transform="matrix(0.9 0 0 1 39.42 0)">0.25</text>
<text class="f" x="423.32" y="406.47" font-size="4.589" text-anchor="middle" transform="matrix(0.9 0 0 1 42.33 0)">0.30</text>
<text class="f" x="332.1" y="285.46" font-size="5.507" text-anchor="middle" transform="matrix(0.9 0 0 1 33.21 0)">Feature Importance Plot</text>
<text class="f" x="332.5" y="412.38" font-size="4.956" text-anchor="middle" transform="matrix(0.9 0 0 1 33.25 0)">Variable Importance</text>
<text class="l" x="166" y="346.01" font-size="4.73" text-anchor="middle" transform="rotate(-90 166 344.5) matrix(0.9 0 0 1 16.6 0)">Features</text>
<line x1="264.6" y1="429.3" x2="264.6" y2="535.9" stroke="#c2c2c2" stroke-width="0.55"/>
<line x1="296.34" y1="429.3" x2="296.34" y2="535.9" stroke="#c2c2c2" stroke-width="0.55"/>
<line x1="328.08" y1="429.3" x2="328.08" y2="535.9" stroke="#c2c2c2" stroke-width="0.55"/>
<line x1="359.82" y1="429.3" x2="359.82" y2="535.9" stroke="#c2c2c2" stroke-width="0.55"/>
<line x1="391.56" y1="429.3" x2="391.56" y2="535.9" stroke="#c2c2c2" stroke-width="0.55"/>
<line x1="423.3" y1="429.3" x2="423.3" y2="535.9" stroke="#c2c2c2" stroke-width="0.55"/>
<line x1="256" y1="434.55" x2="430.5" y2="434.55" stroke="#c2c2c2" stroke-width="0.55"/>
<line x1="256" y1="445.29" x2="430.5" y2="445.29" stroke="#c2c2c2" stroke-width="0.55"/>
<line x1="256" y1="456.03" x2="430.5" y2="456.03" stroke="#c2c2c2" stroke-width="0.55"/>
<line x1="256" y1="466.77" x2="430.5" y2="466.77" stroke="#c2c2c2" stroke-width="0.55"/>
<line x1="256" y1="477.51" x2="430.5" y2="477.51" stroke="#c2c2c2" stroke-width="0.55"/>
<line x1="256" y1="488.25" x2="430.5" y2="488.25" stroke="#c2c2c2" stroke-width="0.55"/>
<line x1="256" y1="498.99" x2="430.5" y2="498.99" stroke="#c2c2c2" stroke-width="0.55"/>
<line x1="256" y1="509.73" x2="430.5" y2="509.73" stroke="#c2c2c2" stroke-width="0.55"/>
<line x1="256" y1="520.47" x2="430.5" y2="520.47" stroke="#c2c2c2" stroke-width="0.55"/>
<line x1="256" y1="531.21" x2="430.5" y2="531.21" stroke="#c2c2c2" stroke-width="0.55"/>
<line x1="264.6" y1="434.55" x2="422.7" y2="434.55" stroke="#70bddd" stroke-width="1.2"/>
<line x1="264.6" y1="445.29" x2="420.6" y2="445.29" stroke="#70bddd" stroke-width="1.2"/>
<line x1="264.6" y1="456.03" x2="413.4" y2="456.03" stroke="#70bddd" stroke-width="1.2"/>
<line x1="264.6" y1="466.77" x2="413.4" y2="466.77" stroke="#70bddd" stroke-width="1.2"/>
<line x1="264.6" y1="477.51" x2="409.5" y2="477.51" stroke="#70bddd" stroke-width="1.2"/>
<line x1="264.6" y1="488.25" x2="406.2" y2="488.25" stroke="#70bddd" stroke-width="1.2"/>
<line x1="264.6" y1="498.99" x2="403.5" y2="498.99" stroke="#70bddd" stroke-width="1.2"/>
<line x1="264.6" y1="509.73" x2="401.8" y2="509.73" stroke="#70bddd" stroke-width="1.2"/>
<line x1="264.6" y1="520.47" x2="391.1" y2="520.47" stroke="#70bddd" stroke-width="1.2"/>
<line x1="264.6" y1="531.21" x2="387.5" y2="531.21" stroke="#70bddd" stroke-width="1.2"/>
<circle cx="422.7" cy="434.55" r="1.4" fill="#0272a2"/>
<circle cx="420.6" cy="445.29" r="1.4" fill="#0272a2"/>
<circle cx="413.4" cy="456.03" r="1.4" fill="#0272a2"/>
<circle cx="413.4" cy="466.77" r="1.4" fill="#0272a2"/>
<circle cx="409.5" cy="477.51" r="1.4" fill="#0272a2"/>
<circle cx="406.2" cy="488.25" r="1.4" fill="#0272a2"/>
<circle cx="403.5" cy="498.99" r="1.4" fill="#0272a2"/>
<circle cx="401.8" cy="509.73" r="1.4" fill="#0272a2"/>
<circle cx="391.1" cy="520.47" r="1.4" fill="#0272a2"/>
<circle cx="387.5" cy="531.21" r="1.4" fill="#0272a2"/>
<rect x="256" y="429.3" width="174.5" height="106.6" fill="none" stroke="#cccccc" stroke-width="0.5" rx="0"/>
<text class="f" x="253.8" y="435.95" font-size="4.367" text-anchor="end" transform="matrix(0.9 0 0 1 25.38 0)">CurrentOccupation_Computer science educator</text>
<text class="f" x="253.8" y="446.69" font-size="4.367" text-anchor="end" transform="matrix(0.9 0 0 1 25.38 0)">CurrentOccupation_DataCenter Network engineer</text>
<text class="f" x="253.8" y="457.43" font-size="4.367" text-anchor="end" transform="matrix(0.9 0 0 1 25.38 0)">CurrentOccupation_Student Researcher</text>
<text class="f" x="253.8" y="468.17" font-size="4.367" text-anchor="end" transform="matrix(0.9 0 0 1 25.38 0)">CurrentOccupation_Local Innovation Agent</text>
<text class="f" x="253.8" y="478.91" font-size="4.367" text-anchor="end" transform="matrix(0.9 0 0 1 25.38 0)">CurrentOccupation_GreekParliamentCouncillor</text>
<text class="f" x="253.8" y="489.65" font-size="4.367" text-anchor="end" transform="matrix(0.9 0 0 1 25.38 0)">CurrentOccupation_SpecialAssociateinICTofArts</text>
<text class="f" x="253.8" y="500.39" font-size="4.367" text-anchor="end" transform="matrix(0.9 0 0 1 25.38 0)">CurrentOccupation_Teacher Secondary school</text>
<text class="f" x="253.8" y="511.13" font-size="4.367" text-anchor="end" transform="matrix(0.9 0 0 1 25.38 0)">CurrentOccupation_Bank employee Manager</text>
<text class="f" x="253.8" y="521.87" font-size="4.367" text-anchor="end" transform="matrix(0.9 0 0 1 25.38 0)">CurrentOccupation_Innovation consultant</text>
<text class="f" x="253.8" y="532.61" font-size="4.367" text-anchor="end" transform="matrix(0.9 0 0 1 25.38 0)">MotherTongue_Bosnian</text>
<text class="f" x="264.6" y="541.6" font-size="4.367" text-anchor="middle" transform="matrix(0.9 0 0 1 26.46 0)">0.0</text>
<text class="f" x="296.34" y="541.6" font-size="4.367" text-anchor="middle" transform="matrix(0.9 0 0 1 29.63 0)">0.2</text>
<text class="f" x="328.08" y="541.6" font-size="4.367" text-anchor="middle" transform="matrix(0.9 0 0 1 32.81 0)">0.4</text>
<text class="f" x="359.82" y="541.6" font-size="4.367" text-anchor="middle" transform="matrix(0.9 0 0 1 35.98 0)">0.6</text>
<text class="f" x="391.56" y="541.6" font-size="4.367" text-anchor="middle" transform="matrix(0.9 0 0 1 39.16 0)">0.8</text>
<text class="f" x="423.3" y="541.6" font-size="4.367" text-anchor="middle" transform="matrix(0.9 0 0 1 42.33 0)">1.0</text>
<text class="f" x="343.25" y="427.97" font-size="5.24" text-anchor="middle" transform="matrix(0.9 0 0 1 34.32 0)">Feature Importance Plot</text>
<text class="f" x="343.65" y="547.71" font-size="4.716" text-anchor="middle" transform="matrix(0.9 0 0 1 34.36 0)">Variable Importance</text>
<text class="l" x="163.1" y="484.94" font-size="4.5" text-anchor="middle" transform="rotate(-90 163.1 483.5) matrix(0.9 0 0 1 16.31 0)">Features</text>
</svg></div></div>
</body></html>
